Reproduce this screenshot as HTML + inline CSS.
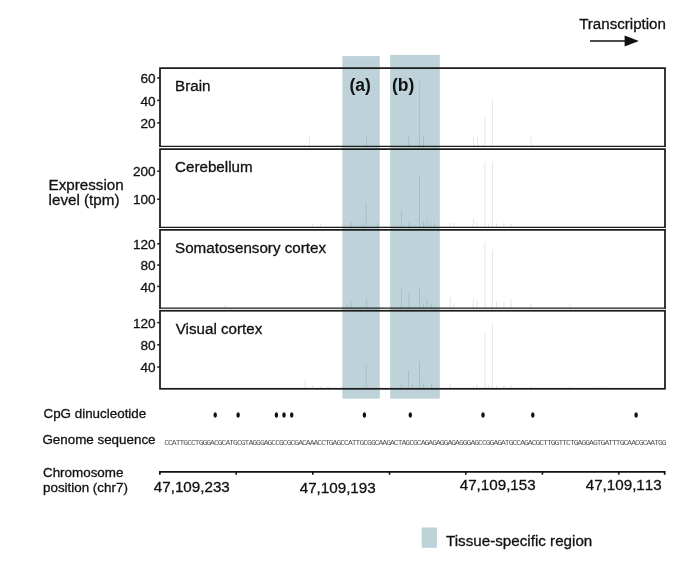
<!DOCTYPE html>
<html><head><meta charset="utf-8"><title>Figure</title>
<style>
html,body{margin:0;padding:0;background:#fff;}
svg{display:block;font-family:"Liberation Sans",Arial,Helvetica,sans-serif;fill:#111;}
text{stroke:#111;stroke-width:0.3px;}
.lab{font-size:15.2px;}
.lab2{font-size:13.4px;}
.tick{font-size:13.6px;text-anchor:end;font-kerning:none;}
.pos{font-size:15.2px;text-anchor:middle;font-kerning:none;}
.seq{font-family:"Liberation Mono","Courier New",monospace;font-size:8px;fill:#555;stroke:none;}
.bold{font-weight:bold;font-size:17.5px;stroke:none;}
.bar{stroke:#000;stroke-opacity:0.11;stroke-width:0.9;}
.bx{stroke:#1c1c1c;stroke-width:1.75;fill:none;}
</style></head><body>
<svg width="685" height="562" viewBox="0 0 685 562">
<rect width="685" height="562" fill="#fff"/>

<rect x="342.3" y="56.1" width="37.45" height="342.55" fill="#bed2da"/>
<rect x="390.15" y="54.9" width="49.65" height="343.75" fill="#bed2da"/>
<line class="bar" x1="309.3" x2="309.3" y1="136" y2="146.35"/>
<line class="bar" x1="366.6" x2="366.6" y1="136" y2="146.35"/>
<line class="bar" x1="408.6" x2="408.6" y1="136.5" y2="146.35"/>
<line class="bar" x1="419.6" x2="419.6" y1="80.7" y2="146.35"/>
<line class="bar" x1="423.5" x2="423.5" y1="136.5" y2="146.35"/>
<line class="bar" x1="473.6" x2="473.6" y1="137" y2="146.35"/>
<line class="bar" x1="477.5" x2="477.5" y1="137" y2="146.35"/>
<line class="bar" x1="484.8" x2="484.8" y1="117.1" y2="146.35"/>
<line class="bar" x1="492.6" x2="492.6" y1="99.1" y2="146.35"/>
<line class="bar" x1="531" x2="531" y1="137" y2="146.35"/>
<line class="bar" x1="312.5" x2="312.5" y1="223.6" y2="227.25"/>
<line class="bar" x1="320.7" x2="320.7" y1="224" y2="227.25"/>
<line class="bar" x1="351.3" x2="351.3" y1="222" y2="227.25"/>
<line class="bar" x1="363" x2="363" y1="223" y2="227.25"/>
<line class="bar" x1="366.2" x2="366.2" y1="203.2" y2="227.25"/>
<line class="bar" x1="377.5" x2="377.5" y1="222.5" y2="227.25"/>
<line class="bar" x1="401.4" x2="401.4" y1="210.8" y2="227.25"/>
<line class="bar" x1="409.1" x2="409.1" y1="222" y2="227.25"/>
<line class="bar" x1="419.5" x2="419.5" y1="175.6" y2="227.25"/>
<line class="bar" x1="423.6" x2="423.6" y1="222" y2="227.25"/>
<line class="bar" x1="427.2" x2="427.2" y1="218.5" y2="227.25"/>
<line class="bar" x1="430.4" x2="430.4" y1="223" y2="227.25"/>
<line class="bar" x1="434.5" x2="434.5" y1="223" y2="227.25"/>
<line class="bar" x1="450.3" x2="450.3" y1="223" y2="227.25"/>
<line class="bar" x1="453.9" x2="453.9" y1="223" y2="227.25"/>
<line class="bar" x1="473.4" x2="473.4" y1="218.5" y2="227.25"/>
<line class="bar" x1="477" x2="477" y1="221.6" y2="227.25"/>
<line class="bar" x1="485" x2="485" y1="161.7" y2="227.25"/>
<line class="bar" x1="488.7" x2="488.7" y1="223" y2="227.25"/>
<line class="bar" x1="492.4" x2="492.4" y1="161.7" y2="227.25"/>
<line class="bar" x1="496.5" x2="496.5" y1="223" y2="227.25"/>
<line class="bar" x1="504" x2="504" y1="223.5" y2="227.25"/>
<line class="bar" x1="511.2" x2="511.2" y1="223.5" y2="227.25"/>
<line class="bar" x1="225" x2="225" y1="305" y2="308.05"/>
<line class="bar" x1="347.2" x2="347.2" y1="304" y2="308.05"/>
<line class="bar" x1="350.9" x2="350.9" y1="301.6" y2="308.05"/>
<line class="bar" x1="366.6" x2="366.6" y1="298.5" y2="308.05"/>
<line class="bar" x1="401.4" x2="401.4" y1="289.3" y2="308.05"/>
<line class="bar" x1="409.1" x2="409.1" y1="293.4" y2="308.05"/>
<line class="bar" x1="419.5" x2="419.5" y1="287.5" y2="308.05"/>
<line class="bar" x1="423.6" x2="423.6" y1="303" y2="308.05"/>
<line class="bar" x1="427" x2="427" y1="300" y2="308.05"/>
<line class="bar" x1="431.5" x2="431.5" y1="304" y2="308.05"/>
<line class="bar" x1="450.3" x2="450.3" y1="297.5" y2="308.05"/>
<line class="bar" x1="453.9" x2="453.9" y1="303.6" y2="308.05"/>
<line class="bar" x1="473.4" x2="473.4" y1="298.5" y2="308.05"/>
<line class="bar" x1="477" x2="477" y1="300" y2="308.05"/>
<line class="bar" x1="485" x2="485" y1="241.9" y2="308.05"/>
<line class="bar" x1="492.4" x2="492.4" y1="249.5" y2="308.05"/>
<line class="bar" x1="496.5" x2="496.5" y1="301.6" y2="308.05"/>
<line class="bar" x1="504" x2="504" y1="301.6" y2="308.05"/>
<line class="bar" x1="511.2" x2="511.2" y1="299.5" y2="308.05"/>
<line class="bar" x1="531" x2="531" y1="304" y2="308.05"/>
<line class="bar" x1="570" x2="570" y1="304.5" y2="308.05"/>
<line class="bar" x1="305.3" x2="305.3" y1="379.5" y2="388.8"/>
<line class="bar" x1="312.5" x2="312.5" y1="385" y2="388.8"/>
<line class="bar" x1="320.7" x2="320.7" y1="385.5" y2="388.8"/>
<line class="bar" x1="328.2" x2="328.2" y1="385.5" y2="388.8"/>
<line class="bar" x1="366.2" x2="366.2" y1="364.2" y2="388.8"/>
<line class="bar" x1="401.4" x2="401.4" y1="384.6" y2="388.8"/>
<line class="bar" x1="408.5" x2="408.5" y1="370.3" y2="388.8"/>
<line class="bar" x1="412.1" x2="412.1" y1="385" y2="388.8"/>
<line class="bar" x1="419.5" x2="419.5" y1="361.4" y2="388.8"/>
<line class="bar" x1="423.6" x2="423.6" y1="383.6" y2="388.8"/>
<line class="bar" x1="431.5" x2="431.5" y1="384" y2="388.8"/>
<line class="bar" x1="450.3" x2="450.3" y1="383.6" y2="388.8"/>
<line class="bar" x1="473.4" x2="473.4" y1="385" y2="388.8"/>
<line class="bar" x1="477" x2="477" y1="383.6" y2="388.8"/>
<line class="bar" x1="485" x2="485" y1="333.5" y2="388.8"/>
<line class="bar" x1="488.7" x2="488.7" y1="385" y2="388.8"/>
<line class="bar" x1="492.4" x2="492.4" y1="323.3" y2="388.8"/>
<line class="bar" x1="496.5" x2="496.5" y1="385" y2="388.8"/>
<line class="bar" x1="504" x2="504" y1="385" y2="388.8"/>
<line class="bar" x1="511.2" x2="511.2" y1="385" y2="388.8"/>
<line class="bar" x1="531" x2="531" y1="385.5" y2="388.8"/>
<line class="bar" x1="570" x2="570" y1="385.5" y2="388.8"/>
<line class="bar" x1="600" x2="600" y1="386" y2="388.8"/>
<path class="bx" d="M160.0,146.85 V68.0 H665.0 V146.85"/>
<line x1="159.125" x2="665.875" y1="146.35" y2="146.35" stroke="#1c1c1c" stroke-width="1.1"/>
<text class="lab" x="175" y="91.3">Brain</text>
<path class="bx" d="M160.0,227.75 V149.15 H665.0 V227.75"/>
<line x1="159.125" x2="665.875" y1="227.3" y2="227.3" stroke="#1c1c1c" stroke-width="1.35"/>
<text class="lab" x="175" y="171.5">Cerebellum</text>
<path class="bx" d="M160.0,308.55 V229.9 H665.0 V308.55"/>
<line x1="159.125" x2="665.875" y1="308.15000000000003" y2="308.15000000000003" stroke="#1c1c1c" stroke-width="1.4"/>
<text class="lab" x="175" y="252.5">Somatosensory cortex</text>
<rect class="bx" x="160.0" y="310.75" width="505.0" height="78.05000000000001"/>
<text class="lab" x="175.7" y="334.05">Visual cortex</text>
<line x1="157.2" x2="160.0" y1="77.90" y2="77.90" stroke="#1c1c1c" stroke-width="1.5"/>
<text class="tick" x="155.6" y="83.10">60</text>
<line x1="157.2" x2="160.0" y1="100.40" y2="100.40" stroke="#1c1c1c" stroke-width="1.5"/>
<text class="tick" x="155.6" y="105.60">40</text>
<line x1="157.2" x2="160.0" y1="122.90" y2="122.90" stroke="#1c1c1c" stroke-width="1.5"/>
<text class="tick" x="155.6" y="128.10">20</text>
<line x1="157.2" x2="160.0" y1="171.20" y2="171.20" stroke="#1c1c1c" stroke-width="1.5"/>
<text class="tick" x="155.6" y="176.40">200</text>
<line x1="157.2" x2="160.0" y1="199.20" y2="199.20" stroke="#1c1c1c" stroke-width="1.5"/>
<text class="tick" x="155.6" y="204.40">100</text>
<line x1="157.2" x2="160.0" y1="243.72" y2="243.72" stroke="#1c1c1c" stroke-width="1.5"/>
<text class="tick" x="155.6" y="248.92">120</text>
<line x1="157.2" x2="160.0" y1="322.60" y2="322.60" stroke="#1c1c1c" stroke-width="1.5"/>
<text class="tick" x="155.6" y="327.80">120</text>
<line x1="157.2" x2="160.0" y1="265.08" y2="265.08" stroke="#1c1c1c" stroke-width="1.5"/>
<text class="tick" x="155.6" y="270.28">80</text>
<line x1="157.2" x2="160.0" y1="344.80" y2="344.80" stroke="#1c1c1c" stroke-width="1.5"/>
<text class="tick" x="155.6" y="350.00">80</text>
<line x1="157.2" x2="160.0" y1="286.44" y2="286.44" stroke="#1c1c1c" stroke-width="1.5"/>
<text class="tick" x="155.6" y="291.64">40</text>
<line x1="157.2" x2="160.0" y1="367.00" y2="367.00" stroke="#1c1c1c" stroke-width="1.5"/>
<text class="tick" x="155.6" y="372.20">40</text>
<text class="lab" x="48.6" y="190">Expression</text>
<text class="lab" x="48.6" y="204.6">level (tpm)</text>
<text class="bold" x="349.4" y="90.5">(a)</text>
<text class="bold" x="391.9" y="90.5">(b)</text>
<text class="lab" x="579.2" y="28.6" style="font-size:15.1px">Transcription</text>
<line x1="590" x2="628" y1="40.9" y2="40.9" stroke="#111" stroke-width="1.5"/>
<polygon points="624.6,35.5 638.9,40.9 624.6,46.4" fill="#111"/>
<text class="lab2" x="43.5" y="417.5">CpG dinucleotide</text>
<ellipse cx="215.2" cy="414.9" rx="1.75" ry="2.75" fill="#111"/>
<ellipse cx="238.1" cy="414.9" rx="1.75" ry="2.75" fill="#111"/>
<ellipse cx="276.4" cy="414.9" rx="1.75" ry="2.75" fill="#111"/>
<ellipse cx="284.0" cy="414.9" rx="1.75" ry="2.75" fill="#111"/>
<ellipse cx="291.7" cy="414.9" rx="1.75" ry="2.75" fill="#111"/>
<ellipse cx="364.4" cy="414.9" rx="1.75" ry="2.75" fill="#111"/>
<ellipse cx="410.3" cy="414.9" rx="1.75" ry="2.75" fill="#111"/>
<ellipse cx="483.0" cy="414.9" rx="1.75" ry="2.75" fill="#111"/>
<ellipse cx="532.8" cy="414.9" rx="1.75" ry="2.75" fill="#111"/>
<ellipse cx="636.1" cy="414.9" rx="1.75" ry="2.75" fill="#111"/>
<text class="lab2" x="42.4" y="443.7">Genome sequence</text>
<text class="seq" x="164.2" y="445" letter-spacing="-0.973">CCATTGCCTGGGACGCATGCGTAGGGAGCCGCGCGACAAACCTGAGCCATTGCGGCAAGACTAGCGCAGAGAGGAGAGGGAGCCGGAGATGCCAGACGCTTGGTTCTGAGGAGTGATTTGCAACGCAATGG</text>
<text class="lab2" x="43" y="476.8">Chromosome</text>
<text class="lab2" x="43" y="492.3">position (chr7)</text>
<path d="M159.85,474.7 V471.85 H664.7 V474.7" fill="none" stroke="#111" stroke-width="1.7"/>
<line x1="236.2" x2="236.2" y1="471.85" y2="474.7" stroke="#111" stroke-width="1.6"/>
<line x1="312.8" x2="312.8" y1="471.85" y2="474.7" stroke="#111" stroke-width="1.6"/>
<line x1="389.5" x2="389.5" y1="471.85" y2="474.7" stroke="#111" stroke-width="1.6"/>
<line x1="465.8" x2="465.8" y1="471.85" y2="474.7" stroke="#111" stroke-width="1.6"/>
<line x1="542.4" x2="542.4" y1="471.85" y2="474.7" stroke="#111" stroke-width="1.6"/>
<line x1="618.75" x2="618.75" y1="471.85" y2="474.7" stroke="#111" stroke-width="1.6"/>
<text class="pos" x="191.8" y="492.4">47,109,233</text>
<text class="pos" x="337.7" y="493.0">47,109,193</text>
<text class="pos" x="497.7" y="490.0">47,109,153</text>
<text class="pos" x="623.7" y="490.0">47,109,113</text>
<rect x="421.7" y="527.5" width="15.2" height="20.3" fill="#bed2da"/>
<text class="lab" x="446" y="545.5">Tissue-specific region</text>
</svg></body></html>
